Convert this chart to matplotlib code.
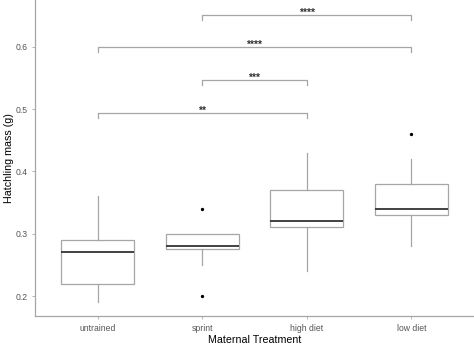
import numpy as np
import matplotlib.pyplot as plt

groups = ['untrained', 'sprint', 'high diet', 'low diet']
q1 = [0.22, 0.275, 0.31, 0.33]
med = [0.27, 0.28, 0.32, 0.34]
q3 = [0.29, 0.30, 0.37, 0.38]
whislo = [0.19, 0.25, 0.24, 0.28]
whishi = [0.36, 0.30, 0.43, 0.42]
outliers = [[], [0.34, 0.20], [], [0.46]]

# significance brackets: (from group, to group, height, label)
sig_from = [1, 0, 1, 0]
sig_to = [3, 3, 2, 2]
sig_y = [0.651, 0.599, 0.546, 0.493]
sig_lab = ['****', '****', '***', '**']

plt.rcParams['font.family'] = ['Liberation Sans', 'DejaVu Sans']
fig = plt.figure(figsize=(4.74, 3.46), dpi=100)
ax = fig.add_axes([0.0738, 0.0867, 0.9262, 0.9133])

stats = []
for i in range(len(groups)):
    stats.append(dict(q1=q1[i], med=med[i], q3=q3[i], whislo=whislo[i],
                      whishi=whishi[i], fliers=outliers[i], label=groups[i]))

grey = '#a6a6a6'
ax.bxp(stats, positions=range(len(groups)), widths=0.7, patch_artist=True,
       showcaps=False,
       boxprops=dict(facecolor='white', edgecolor=grey, linewidth=0.9),
       whiskerprops=dict(color=grey, linewidth=0.9),
       medianprops=dict(color='#333333', linewidth=1.3),
       flierprops=dict(marker='o', markersize=1.4, markerfacecolor='black',
                       markeredgecolor='black'))

tip = 0.008
for a, b, y, lab in zip(sig_from, sig_to, sig_y, sig_lab):
    ax.plot([a, a, b, b], [y - tip, y, y, y - tip], color=grey, lw=0.9)
    ax.text((a + b) / 2, y - 0.004, lab, ha='center', va='bottom',
            fontsize=7.5, fontweight='bold', color='#333333')

ax.set_xlim(-0.6, 3.6)
ax.set_ylim(0.168, 0.675)
ax.set_yticks([0.2, 0.3, 0.4, 0.5, 0.6])
ax.set_yticklabels(['0.2', '0.3', '0.4', '0.5', '0.6'])
ax.set_xticks(range(len(groups)))
ax.set_xticklabels(groups)
ax.tick_params(colors=grey, labelcolor='#555555', labelsize=6.2, length=2, width=0.6)
for s in ['top', 'right']:
    ax.spines[s].set_visible(False)
for s in ['left', 'bottom']:
    ax.spines[s].set_color(grey)
    ax.spines[s].set_linewidth(0.9)
ax.set_xlabel('Maternal Treatment', fontsize=7.7, color='black', labelpad=2)
ax.set_ylabel('Hatchling mass (g)', fontsize=7.7, color='black', labelpad=1)

fig.savefig('out.png', dpi=100)
